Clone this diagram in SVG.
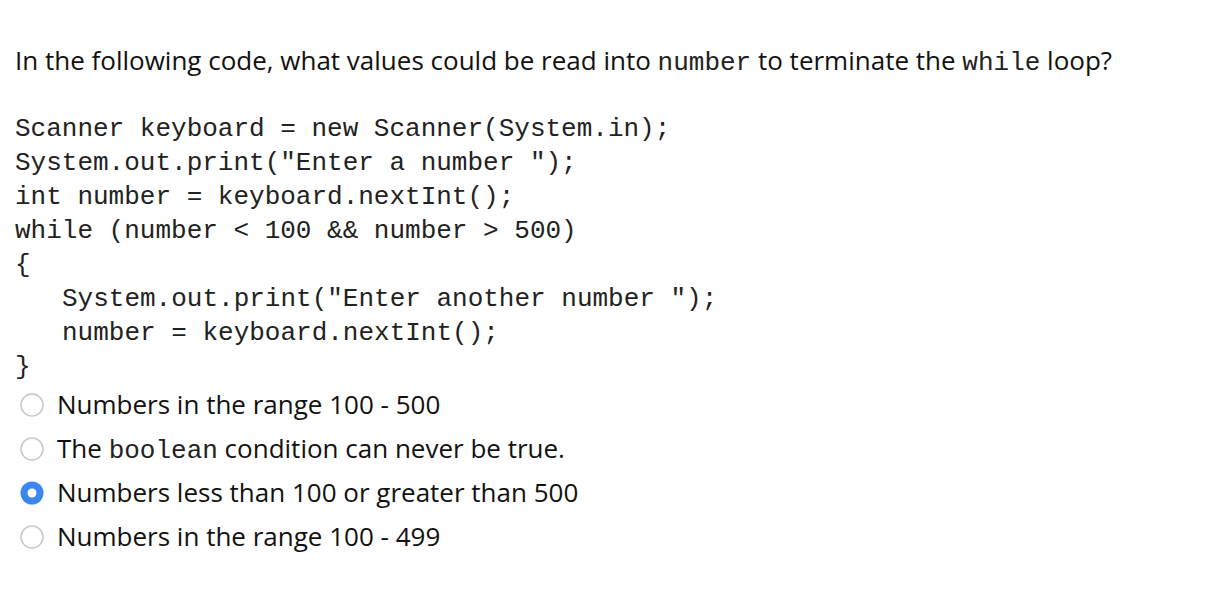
<svg xmlns="http://www.w3.org/2000/svg" width="1224" height="608" viewBox="0 0 1224 608">
<style>
.t{font-family:"Open Sans","Liberation Sans",sans-serif;font-size:26px;fill:#111}
.m{font-family:"Liberation Mono","DejaVu Sans Mono",monospace;font-size:26px;fill:#222}
.r{fill:#fff;stroke:#c8c8c8;stroke-width:1.5}
</style>
<rect width="1224" height="608" fill="#fff"/>
<text class="t" x="15" y="70">In the following code, what values could be read into <tspan class="m" font-size="25">number</tspan> to terminate the <tspan class="m" font-size="25">while</tspan> loop?</text>
<g class="m" xml:space="preserve">
<text x="15" y="136">Scanner keyboard = new Scanner(System.in);</text>
<text x="15" y="170">System.out.print("Enter a number ");</text>
<text x="15" y="204">int number = keyboard.nextInt();</text>
<text x="15" y="238">while (number &lt; 100 &amp;&amp; number &gt; 500)</text>
<text x="15" y="272">{</text>
<text x="62" y="306">System.out.print("Enter another number ");</text>
<text x="62" y="340">number = keyboard.nextInt();</text>
<text x="15" y="374">}</text>
</g>
<g id="opt1"><circle class="r" cx="32" cy="405" r="11"/><text class="t" x="57" y="414">Numbers in the range 100 - 500</text></g>
<g id="opt2"><circle class="r" cx="32" cy="449" r="11"/><text class="t" x="57" y="458">The <tspan class="m" font-size="25">boolean</tspan> condition can never be true.</text></g>
<g id="opt3"><circle cx="32" cy="493" r="11.5" fill="#3b86f0"/><circle cx="32" cy="493" r="4.5" fill="#fff"/><text class="t" x="57" y="502">Numbers less than 100 or greater than 500</text></g>
<g id="opt4"><circle class="r" cx="32" cy="537" r="11"/><text class="t" x="57" y="546">Numbers in the range 100 - 499</text></g>
</svg>
